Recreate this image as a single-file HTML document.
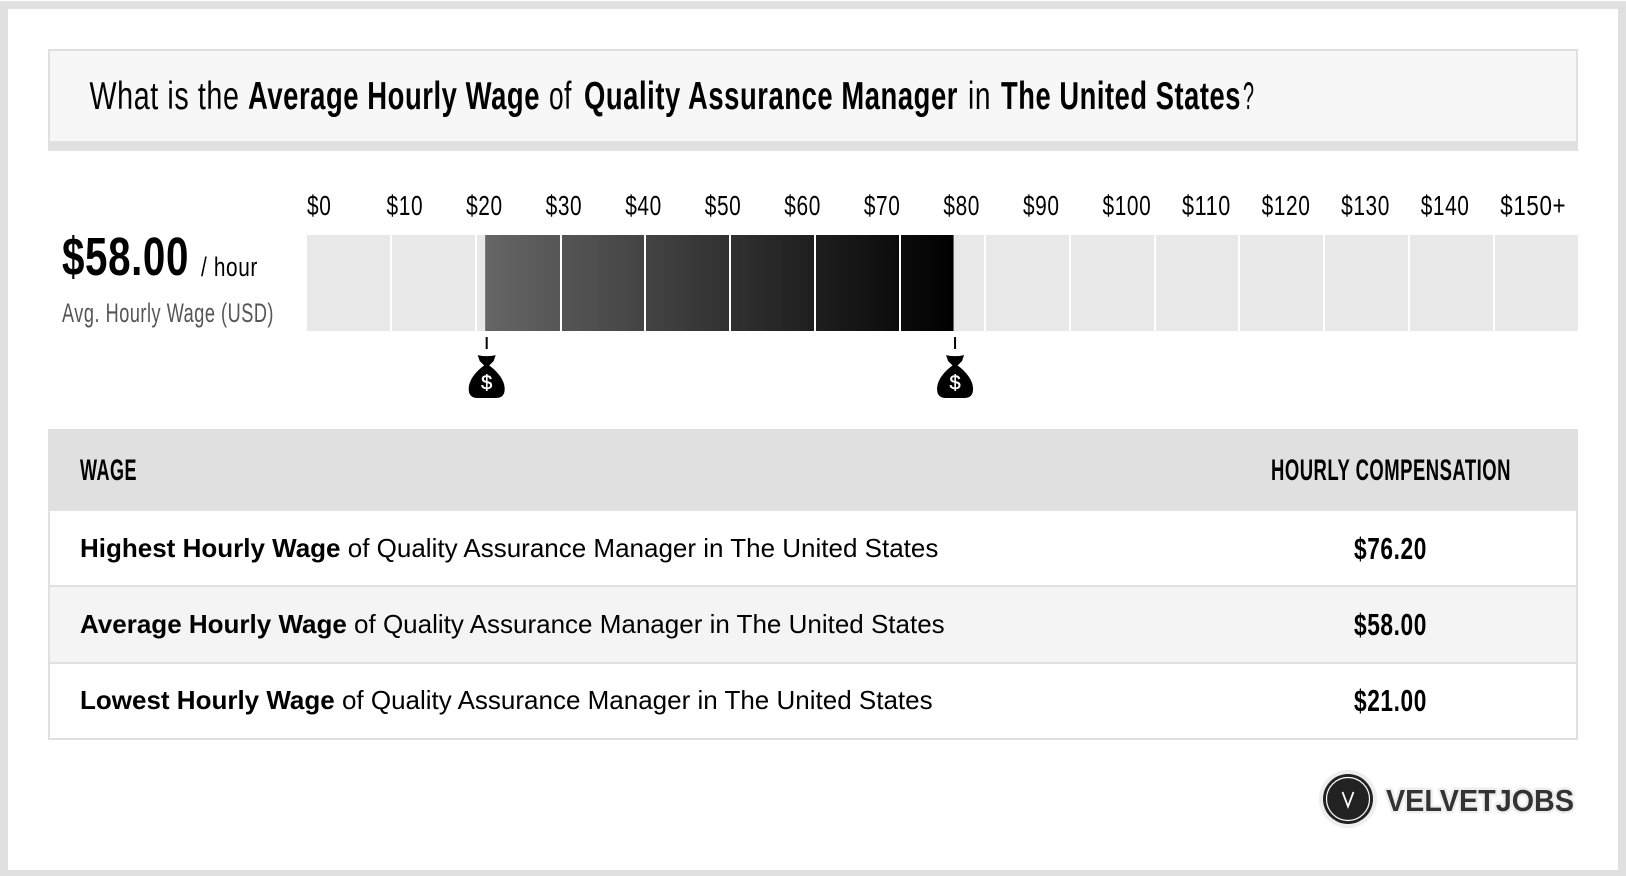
<!DOCTYPE html>
<html lang="en">
<head>
<meta charset="utf-8">
<title>Average Hourly Wage of Quality Assurance Manager</title>
<style>
html,body{margin:0;padding:0;background:#fff;width:1626px;height:876px;overflow:hidden}
svg{display:block}
text{font-family:"Liberation Sans Narrow","Liberation Sans",sans-serif;fill:#000}
.b{font-weight:700}
.t{letter-spacing:.8px}
.w{font-family:"Liberation Sans",sans-serif;font-size:26px;fill:#000}
</style>
</head>
<body>
<svg id="chart" xmlns="http://www.w3.org/2000/svg" width="1626" height="876" viewBox="0 0 1626 876">
<defs>
<linearGradient id="fillGrad" gradientUnits="userSpaceOnUse" x1="485" x2="953" y1="0" y2="0">
<stop offset="0" stop-color="#666"/><stop offset="1" stop-color="#000"/>
</linearGradient>
<symbol id="bag" viewBox="0 0 36 43" overflow="visible">
<path d="M9 0 C13 1.500 23 1.500 27 0 L25 6 L20.500 10.500 C27 15 36 24 36 34 C36 40 33 43 27 43 L9 43 C3 43 0 40 0 34 C0 24 9 15 15.500 10.500 L11 6 Z" fill="#000"/>
</symbol>
</defs>
<rect x="0" y="1" width="1626" height="875" fill="#e0e0e0"/>
<rect x="8" y="9" width="1610" height="861" fill="#fff"/>

<g>
<rect x="48" y="49" width="1530" height="102" fill="#e0e0e0"/>
<rect x="50" y="51" width="1526" height="90" fill="#f7f7f7"/>
<text class="t" x="89.500" y="109" font-size="38.500" textLength="150" lengthAdjust="spacingAndGlyphs">What is the</text>
<text class="b t" x="248" y="109" font-size="38.500" textLength="292" lengthAdjust="spacingAndGlyphs">Average Hourly Wage</text>
<text class="t" x="549" y="109" font-size="38.500" textLength="23" lengthAdjust="spacingAndGlyphs">of</text>
<text class="b t" x="584" y="109" font-size="38.500" textLength="374" lengthAdjust="spacingAndGlyphs">Quality Assurance Manager</text>
<text class="t" x="968" y="109" font-size="38.500" textLength="23" lengthAdjust="spacingAndGlyphs">in</text>
<text class="b t" x="1001" y="109" font-size="38.500" textLength="240" lengthAdjust="spacingAndGlyphs">The United States</text>
<text x="1243" y="109" font-size="38.500" textLength="11" lengthAdjust="spacingAndGlyphs">?</text>
</g>

<g>
<text id="bigValue" class="b t" x="62" y="275" font-size="54" textLength="127" lengthAdjust="spacingAndGlyphs"></text>
<text class="t" x="201" y="276" font-size="26.500" textLength="57" lengthAdjust="spacingAndGlyphs">/ hour</text>
<text class="t" x="62" y="322" font-size="26.500" textLength="212" lengthAdjust="spacingAndGlyphs" style="fill:#555">Avg. Hourly Wage (USD)</text>
</g>

<g id="scale"></g>

<g>
<rect x="48" y="429" width="1530" height="311" fill="#e0e0e0"/>
<rect x="50" y="511" width="1526" height="74" fill="#fff"/>
<rect x="50" y="587" width="1526" height="75" fill="#f4f4f4"/>
<rect x="50" y="664" width="1526" height="74" fill="#fff"/>
<text class="b t" x="80" y="480" font-size="29.500" textLength="57" lengthAdjust="spacingAndGlyphs">WAGE</text>
<text class="b t" x="1271" y="480" font-size="29.500" textLength="240" lengthAdjust="spacingAndGlyphs">HOURLY COMPENSATION</text>
<text class="w" x="80" y="557"><tspan font-weight="700">Highest Hourly Wage</tspan> of Quality Assurance Manager in The United States</text>
<text class="w" x="80" y="633"><tspan font-weight="700">Average Hourly Wage</tspan> of Quality Assurance Manager in The United States</text>
<text class="w" x="80" y="709"><tspan font-weight="700">Lowest Hourly Wage</tspan> of Quality Assurance Manager in The United States</text>
<text id="valHigh" class="b t" x="1354" y="559" font-size="30.500" textLength="73" lengthAdjust="spacingAndGlyphs"></text>
<text id="valAvg" class="b t" x="1354" y="635" font-size="30.500" textLength="73" lengthAdjust="spacingAndGlyphs"></text>
<text id="valLow" class="b t" x="1354" y="711" font-size="30.500" textLength="73" lengthAdjust="spacingAndGlyphs"></text>
</g>

<g>
<circle cx="1348" cy="799" r="29" fill="#eee"/>
<circle cx="1348" cy="799" r="25" fill="#222"/>
<circle cx="1348" cy="799" r="21.500" fill="none" stroke="#fff" stroke-width="1.200"/>
<path d="M1342.500 792 L1348 806.500 L1353.500 792" fill="none" stroke="#fff" stroke-width="1.800"/>
<text x="1386" y="811" font-size="31" textLength="188" lengthAdjust="spacingAndGlyphs" style="font-family:'Liberation Sans',sans-serif;font-weight:700;fill:#333;stroke:#eee;stroke-width:5px;paint-order:stroke;stroke-linejoin:round">VELVETJOBS</text>
</g>
</svg>

<script>
const tickLabels = ["$0","$10","$20","$30","$40","$50","$60","$70","$80","$90","$100","$110","$120","$130","$140","$150+"];
const bandStarts = [0,10,20,30,40,50,60,70,80,90,100,110,120,130,140];
const bandSize = 10;
const lowestWage = 21.00;
const averageWage = 58.00;
const highestWage = 76.20;

const NS = 'http://www.w3.org/2000/svg';
const scaleGroup = document.getElementById('scale');
const barTop = 235, barHeight = 96;
function xOf(v){ return 307 + v * 8.485; }
function labelX(i){ return 307 + i * 79.55; }
function labelWidth(s){ return s.length * 12.2 + (s.indexOf('+') >= 0 ? 5 : 0); }
function money(v){ return '$' + v.toFixed(2); }
function mk(tag, attrs){
  const el = document.createElementNS(NS, tag);
  for (const k in attrs) el.setAttribute(k, attrs[k]);
  return el;
}

document.getElementById('bigValue').textContent = money(averageWage);
document.getElementById('valHigh').textContent = money(highestWage);
document.getElementById('valAvg').textContent = money(averageWage);
document.getElementById('valLow').textContent = money(lowestWage);

tickLabels.forEach(function(lab, i){
  const t = mk('text', {x: labelX(i), y: 215, 'font-size': 28, textLength: labelWidth(lab), lengthAdjust: 'spacingAndGlyphs', 'class': 't'});
  
  
  t.textContent = lab;
  scaleGroup.appendChild(t);
});

const grad = document.getElementById('fillGrad');
grad.setAttribute('x1', xOf(lowestWage));
grad.setAttribute('x2', xOf(highestWage));

bandStarts.forEach(function(start){
  const x0 = Math.round(xOf(start));
  const x1 = Math.round(xOf(start + bandSize)) - 2;
  const band = mk('rect', {x: x0, y: barTop, width: x1 - x0, height: barHeight, fill: '#e8e8e8'});
  
  
  scaleGroup.appendChild(band);
  const a = Math.max(x0, xOf(lowestWage));
  const b = Math.min(x1, xOf(highestWage));
  if (b > a) {
    const fill = mk('rect', {x: a, y: barTop, width: b - a, height: barHeight, fill: 'url(#fillGrad)'});
    
    
    scaleGroup.appendChild(fill);
  }
});

[lowestWage, highestWage].forEach(function(v){
  const cx = xOf(v) + 1.5;
  const tick = mk('rect', {x: cx - 1, y: 337, width: 2, height: 12, fill: '#000'});
  
  
  scaleGroup.appendChild(tick);
  const bag = mk('use', {href: '#bag', x: cx - 18, y: 355, width: 36, height: 43});
  
  
  scaleGroup.appendChild(bag);
  const d = mk('text', {x: cx, y: 389.500, 'font-size': 20, 'text-anchor': 'middle', style: 'font-family:"Liberation Sans",sans-serif;fill:#fff;stroke:#fff;stroke-width:.4px'});
  
  
  d.textContent = '$';
  scaleGroup.appendChild(d);
});
</script>
</body>
</html>
